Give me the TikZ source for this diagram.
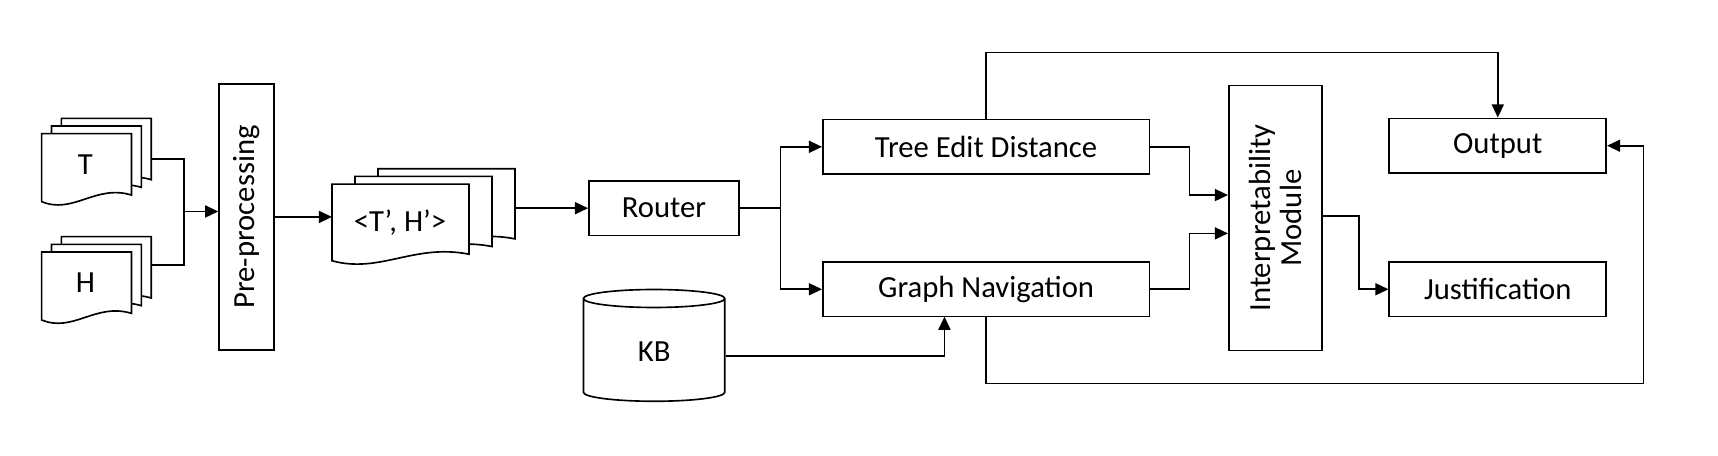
\documentclass[tikz,border=0pt]{standalone}
\usepackage{fontspec}
\setmainfont{Carlito}
\usetikzlibrary{arrows.meta,positioning,shapes.geometric}

% one paper sheet with a wavy lower edge: x, y (top left), width, height
\newcommand{\sheet}[4]{%
  \draw[fill=white] (#1,#2+#4) -- (#1,#2) -- (#1+#3,#2) -- (#1+#3,#2+#4-6)
    .. controls (#1+0.6*#3,#2+#4-16) and (#1+0.35*#3,#2+#4+12) .. (#1,#2+#4) -- cycle;}
% stack of three sheets: x, y, width, height, offset
\newcommand{\docstack}[5]{\sheet{#1+2*#5}{#2-14}{#3}{#4}\sheet{#1+#5}{#2-7}{#3}{#4}\sheet{#1}{#2}{#3}{#4}}

\begin{document}
\begin{tikzpicture}[x=1pt, y=-1pt,
line width=1.5pt,
every node/.style={font=\fontsize{28}{32}\selectfont},
box/.style={draw, minimum height=50pt, inner sep=0pt},
arr/.style={-{Triangle[length=12pt,width=11pt]}}
]
\useasboundingbox (0,0) rectangle (1568,416);

% documents
\docstack{38}{122}{82}{62}{9}
\node (T) at (78,150) {T};
\docstack{38}{230}{82}{62}{9}
\node (H) at (78,258) {H};
\docstack{303}{168}{125}{70}{21}
\node (TH) at (365,203) {<T’, H’>};
\coordinate (Tr) at (138,145);
\coordinate (Hr) at (138,242);
\coordinate (THl) at (303,198);
\coordinate (THr) at (470,190);

\node[draw, minimum width=50pt, minimum height=243pt] (pre) at (225,198) {};
\node[rotate=90] at (pre.center) {Pre-processing};
\node[box, minimum width=137pt] (router) at (606,190) {Router};
\node[box, minimum width=298pt] (ted) at (900,134) {Tree Edit Distance};
\node[box, minimum width=298pt] (gn) at (900,264) {Graph Navigation};
\node[draw, cylinder, shape border rotate=90, aspect=0.45, minimum width=129pt, minimum height=102pt] (kb) at (597,321) {KB};
\node[draw, minimum width=85pt, minimum height=242pt] (im) at (1164,199) {};
\node[rotate=90, align=center, font=\fontsize{28}{28}\selectfont] at (im.center) {Interpretability\\Module};
\node[box, minimum width=198pt] (out) at (1367,133) {Output};
\node[box, minimum width=198pt] (jus) at (1367,264) {Justification};

% connectors
\draw (Tr) -| (168,193);
\draw[arr] (Hr) -| (168,193) -- (pre.west |- 0,193);
\draw[arr] (pre.east |- THl) -- (THl);
\draw[arr] (THr) -- (router.west |- THr);
\draw[arr] (router.east) -- ++(37,0) |- (ted.west);
\draw[arr] (router.east) -- ++(37,0) |- (gn.west);
\draw[arr] (ted.east) -- ++(36,0) |- (im.west |- 0,178);
\draw[arr] (gn.east) -- ++(36,0) |- (im.west |- 0,213);
\draw[arr] (im.east |- 0,197) -- ++(33,0) |- (jus.west);
\draw[arr] (kb.east |- 0,325) -| (862,289);
\draw[arr] (ted.north) -- (900,48) -| (out.north);
\draw[arr] (gn.south) -- (900,350) -- (1500,350) |- (out.east);
\end{tikzpicture}
\end{document}
